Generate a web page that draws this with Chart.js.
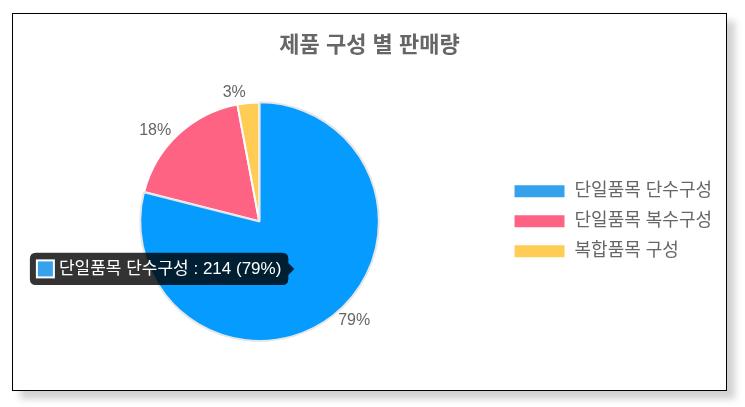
<!DOCTYPE html>
<html>
<head>
<meta charset="utf-8">
<script src="https://cdn.jsdelivr.net/npm/chart.js@4"></script>
<style>
  body { margin: 0; background: #fff; }
  #box {
    position: absolute; left: 12px; top: 13px;
    width: 713px; height: 376px;
    border: 1px solid #000;
    box-shadow: 8px 8px 7px rgba(0, 0, 0, 0.18);
    background: #fff;
  }
</style>
</head>
<body>
<div id="box"><canvas id="chart"></canvas></div>
<script>
const chartTitle = "제품 구성 별 판매량";
const categories = ["단일품목 단수구성", "단일품목 복수구성", "복합품목 구성"];
const salesValues = [214, 49, 8];
const sliceColors = ["#36A2EB", "#FF6384", "#FFCD56"];

const FONT = "'Helvetica Neue', Helvetica, Arial, 'Noto Sans CJK KR', sans-serif";
Chart.defaults.font.family = FONT;
Chart.defaults.color = "#666";

function percentOf(v) {
  const total = salesValues.reduce((a, b) => a + b, 0);
  return Math.round((v / total) * 100);
}

// percent labels outside the slices
const outsideLabels = {
  id: "outsideLabels",
  afterDatasetsDraw(chart) {
    const ctx = chart.ctx;
    const meta = chart.getDatasetMeta(0);
    ctx.save();
    ctx.font = "16px " + FONT;
    ctx.fillStyle = "#666";
    ctx.textAlign = "center";
    ctx.textBaseline = "middle";
    meta.data.forEach((arc, i) => {
      const p = arc.getProps(["x", "y", "startAngle", "endAngle", "outerRadius"], true);
      const mid = (p.startAngle + p.endAngle) / 2 - 0.1;
      const dx = Math.cos(mid), dy = Math.sin(mid);
      const text = percentOf(salesValues[i]) + "%";
      const w = ctx.measureText(text).width, h = 16;
      const d = p.outerRadius + 2 + Math.abs(dx) * w / 2 + Math.abs(dy) * h / 2;
      ctx.fillText(text, p.x + dx * d, p.y + dy * d);
    });
    ctx.restore();
  }
};

const chart = new Chart(document.getElementById("chart"), {
  type: "pie",
  data: {
    labels: categories,
    datasets: [{
      data: salesValues,
      backgroundColor: sliceColors,
      hoverOffset: 2
    }]
  },
  options: {
    responsive: true,
    maintainAspectRatio: false,
    animation: false,
    layout: { padding: { left: 4, right: 4, top: 0, bottom: 49 } },
    plugins: {
      title: {
        display: true,
        text: chartTitle,
        color: "#666",
        font: { size: 22, weight: "bold" },
        padding: { top: 19, bottom: 42 }
      },
      legend: {
        position: "right",
        fullSize: false,
        labels: {
          boxWidth: 52,
          boxHeight: 14,
          padding: 12,
          font: { size: 18 },
          color: "#666"
        }
      },
      tooltip: {
        bodyFont: { size: 17 },
        padding: { x: 7, y: 6 },
        boxWidth: 17,
        boxHeight: 17,
        boxPadding: 3,
        caretSize: 6,
        callbacks: {
          title() { return ""; },
          label(ctx) {
            return ctx.label + " : " + ctx.parsed + " (" + percentOf(ctx.parsed) + "%)";
          }
        }
      }
    }
  },
  plugins: [outsideLabels]
});

const meta0 = chart.getDatasetMeta(0);
const pos = meta0.data[0].tooltipPosition();
chart.setActiveElements([{ datasetIndex: 0, index: 0 }]);
chart.tooltip.setActiveElements([{ datasetIndex: 0, index: 0 }], pos);
chart.update();
</script>
</body>
</html>
